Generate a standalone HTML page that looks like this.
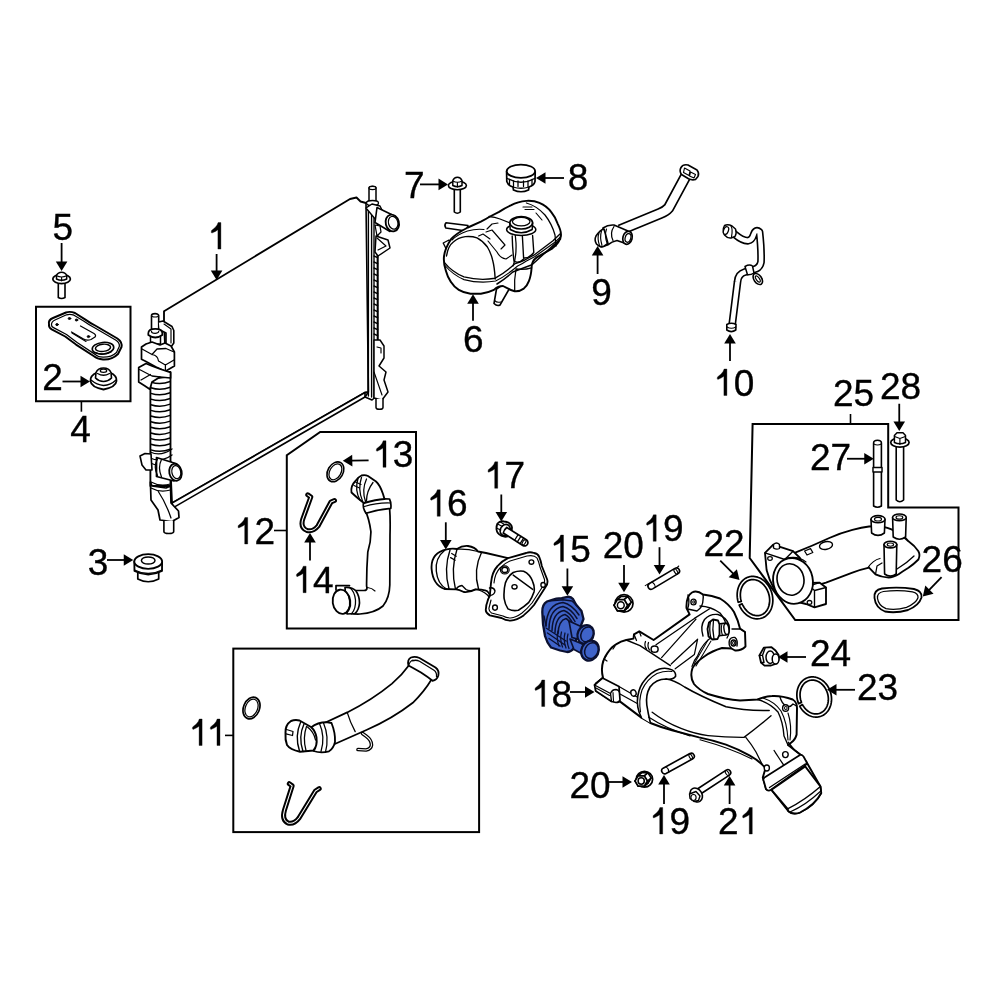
<!DOCTYPE html><html><head><meta charset="utf-8"><style>html,body{margin:0;padding:0;background:#fff;width:1000px;height:1000px;overflow:hidden}</style></head><body><svg width="1000" height="1000" viewBox="0 0 1000 1000" style="display:block;font-family:'Liberation Sans',sans-serif;font-size:37px"><rect width="1000" height="1000" fill="#fff"/>
<rect x="36" y="306.75" width="94.5" height="94.5" fill="none" stroke="#000" stroke-width="2"/>
<path d="M320.2,432 L416,432 L416,628.6 L286.8,628.6 L286.8,455.2 Z" fill="none" stroke="#000" stroke-width="2"/>
<rect x="233.3" y="648.6" width="245.8" height="183.5" fill="none" stroke="#000" stroke-width="2"/>
<path d="M752.6,424 L888.2,424 L888.2,507.4 L958.5,507.4 L958.5,620.1 L795.2,620.1 L749.7,558 Z" fill="none" stroke="#000" stroke-width="2"/>
<g fill="#fff" stroke="#000" stroke-width="1.5" stroke-linejoin="round" stroke-linecap="round">
<!-- 10_radiator.svg -->
<path d="M164,322 L164,311.2 L350,199 L356.5,197.5 L360.5,201.5 L366,203 L368.4,204 L368.4,392 L365,392.5 L172,503.1 Z" stroke-width="1.84"/>
<path d="M172,503.1 L365,392.5 L365,397 L173.3,507.6 Z" stroke-width="1.61"/>
<path d="M366,203 L369,201 L377.6,203 L377.8,395 L372,400 L365,397 L368.4,392 Z" stroke-width="1.61"/>
<path d="M368.4,204 L368.4,396 M371.6,205 L371.6,397 M374,205 L374,398" fill="none" stroke-width="1.38"/>
<path d="M374,256.0 L377.6,257.6 M374,262.0 L377.6,263.6 M374,268.0 L377.6,269.6 M374,274.0 L377.6,275.6 M374,280.0 L377.6,281.6 M374,286.0 L377.6,287.6 M374,292.0 L377.6,293.6 M374,298.0 L377.6,299.6 M374,304.0 L377.6,305.6 M374,310.0 L377.6,311.6 M374,316.0 L377.6,317.6 M374,322.0 L377.6,323.6 M374,328.0 L377.6,329.6 M374,334.0 L377.6,335.6" fill="none" stroke-width="1.38"/>
<path d="M377.6,252 L377.6,342" fill="none" stroke-width="1.72"/>
<path d="M369,203 L369,188 A3.5,1.8 0 0 1 376,188 L376,203" />
<ellipse cx="372.5" cy="188" rx="3.5" ry="1.6" stroke-width="1.15"/>
<ellipse cx="372.5" cy="203" rx="6" ry="2.5" stroke-width="1.26"/>
<path d="M366,208 L372,204 L380,206 L383,212 L380,218 L376,220 Z" stroke-width="1.38"/>
<path d="M377,207.5 L391.5,214.5 L390,231.5 L375,222.5 Z" stroke-width="1.61"/>
<ellipse cx="392.3" cy="223" rx="6.6" ry="8.5" transform="rotate(-15 392.3 223)" stroke-width="1.84"/>
<ellipse cx="393.2" cy="223" rx="4.7" ry="6.5" transform="rotate(-15 392.3 223)" stroke-width="1.26"/>
<path d="M375,225 L380,226 L381,232 L377,236 Z" stroke-width="1.26"/>
<path d="M376,236 L388,240 L390,248 L378,256 L375,252 Z" stroke-width="1.49"/>
<path d="M377,238 L386,246 L378,250" fill="none" stroke-width="1.15"/>
<path d="M374,340 L380,340 L384,346 L384,358 L379,366 L386,372 L384,380 L388,392 L382,400 L374,398 Z" stroke-width="1.49"/>
<path d="M377,347 L381,348 L381,353 M374,372 L382,395" fill="none" stroke-width="1.15"/>
<path d="M376,399 L376,407.5 A3.5,1.8 0 0 0 383,407.5 L383,398.5" stroke-width="1.49"/>
<!-- 11_lefttank.svg -->
<path d="M150.4,372 L150.4,486 L170.5,486 L170.5,372 Z" stroke-width="1.84"/>
<path d="M150.8,376.5 Q160.5,379.7 170.2,375.9 M150.8,382.1 Q160.5,385.3 170.2,381.5 M150.8,387.8 Q160.5,391.0 170.2,387.2 M150.8,393.4 Q160.5,396.6 170.2,392.8 M150.8,399.1 Q160.5,402.3 170.2,398.5 M150.8,404.7 Q160.5,407.9 170.2,404.1 M150.8,410.4 Q160.5,413.6 170.2,409.8 M150.8,416.0 Q160.5,419.2 170.2,415.4 M150.8,421.7 Q160.5,424.9 170.2,421.1 M150.8,427.3 Q160.5,430.5 170.2,426.7 M150.8,433.0 Q160.5,436.2 170.2,432.4 M150.8,438.6 Q160.5,441.8 170.2,438.0 M150.8,444.3 Q160.5,447.5 170.2,443.7 M150.8,449.9 Q160.5,453.1 170.2,449.3" fill="none" stroke-width="1.49"/>
<path d="M151.5,331.5 L151.5,315.5 A3.6,2 0 0 1 158.7,315.5 L158.7,331.5" stroke-width="1.61"/>
<ellipse cx="155.1" cy="315.5" rx="3.4" ry="1.5" stroke-width="1.15"/>
<path d="M158.7,322 L163,321 L172,326.5 L173.8,330.5 L173.8,343 L171,347 L166,346 L166,333 L160,330" stroke-width="1.61"/>
<path d="M164,324 L171,329 L171,343" fill="none" stroke-width="1.15"/>
<path d="M150.5,336 L150.5,344 L160.5,344 L160.5,336 Z" stroke-width="1.49"/><path d="M148.3,333.2 Q148.3,328.8 155.3,328.8 Q162.3,328.8 162.3,333.2 L162.3,335 Q155.3,340 148.3,335 Z" stroke-width="1.72"/>
<path d="M151.5,331.5 A3.6,1.8 0 0 0 158.7,331.5" fill="none" stroke-width="1.26"/>
<path d="M141.5,347 L146,344 L152,342 L160,345 L165,343 L171,346 L174.4,352 L174.4,366 L165.4,371.2 L156,367 L146,361.5 L141.5,359.2 Z" stroke-width="1.72"/>
<path d="M142,349 L152,354.5 Q158,355.5 158.5,361 L165.4,365 L174.4,359.8 M165.4,365 L165.4,371.2 M152,354.5 L157,349 L166,348.5 L174,352" fill="none" stroke-width="1.26"/>
<path d="M138.7,367.6 L146,363.5 L152,366 L160,369 L170.5,372.5 L170.5,378 L160,377 L152,382 L149.8,389.2 L145,386 L138.7,382 Z" stroke-width="1.72"/>
<path d="M139.5,369.5 L152,376 L160,377 M141,380 L150.5,374.5" fill="none" stroke-width="1.26"/>
<path d="M150.4,452 Q160.5,457 172,449 M150.4,458 Q160.5,463 172,455 M150.4,463 Q160.5,468 171,462" fill="none" stroke-width="1.38"/>
<path d="M140,456 L145,453.5 L151,454 L152,470 L146,470 L142,465 Z" stroke-width="1.61"/>
<path d="M156.5,457.5 L176.5,463.8 L174,481 L156.5,476.5 Z" stroke-width="1.72"/>
<path d="M157.5,459 Q153,467 157.5,475.5 M161.5,459.5 Q157.5,467.5 161.5,477" fill="none" stroke-width="1.26"/>
<ellipse cx="175.5" cy="472.3" rx="6.2" ry="8.6" transform="rotate(-12 175.5 472.3)" stroke-width="1.84"/>
<ellipse cx="176.3" cy="472.3" rx="4.4" ry="6.6" transform="rotate(-12 175.5 472.3)" stroke-width="1.26"/>
<path d="M150.4,482 L152,486 L166,488 L170.5,486 L171,503 L178.5,511 L179,517.5 L172,521.5 L160,520 L158,510 L151,500 Z" stroke-width="1.72"/>
<path d="M151,482 Q160,487 170.5,484 M151,488 Q160,493 170.5,490 M158,491 Q166,503 171,518" fill="none" stroke-width="1.26"/>
<path d="M163.9,521 L163.9,531.5 A4.9,2 0 0 0 173.7,531.5 L173.7,520.5" stroke-width="1.61"/>
<!-- 20_small_left.svg -->
<path d="M49,324.4 Q48,320 53,318 L66,312.5 Q70,311 75,313 L85,319.4 Q90,323 96,326 L117.4,338.5 Q122.5,342 121.5,347 L118,354 Q112,360 103,359.5 Q97,359 94,356.3 L76,344.6 Q70,340 65.2,336.5 L51.7,329.3 Q48.5,327.5 49,324.4 Z" stroke-width="1.95"/>
<path d="M51.5,324.6 Q51.5,321.5 55,320 L66.5,314.8 Q70,313.6 74,315.2 L84,321.3 Q89,325 95,328 L116,340.2 Q120,343 119.3,346.5 L116.5,352.5 Q111.5,357.3 103,357.2 Q98,357 95.5,354.6 L77.5,342.8 Q71,338 66.5,334.5 L53.5,327.6 Q51.3,326.5 51.5,324.6 Z" fill="none" stroke-width="1.26"/>
<ellipse cx="103" cy="348.2" rx="10.8" ry="5.8" transform="rotate(-6 103 348.2)" stroke-width="1.61"/>
<ellipse cx="103" cy="347.8" rx="7.6" ry="3.6" transform="rotate(-6 103 347.8)" stroke-width="1.49"/>
<path d="M95.5,352.5 Q103,356 111,352" fill="none" stroke-width="1.15"/>
<path d="M71.5,332 L83.5,339 Q87,341 91,339.5 L95,337 Q96.5,335 94,333.5 L80.5,326" fill="none" stroke-width="1.26"/>
<path d="M72,333 L86,341.5" fill="none" stroke-width="1.15"/>
<ellipse cx="57.0" cy="324.6" rx="1.3" ry="1" fill="#000" stroke-width="0.92"/>
<ellipse cx="69.5" cy="318.5" rx="1.3" ry="1" fill="#000" stroke-width="0.92"/>
<ellipse cx="76.5" cy="320.0" rx="1.3" ry="1" fill="#000" stroke-width="0.92"/>
<ellipse cx="88.5" cy="336.6" rx="1.3" ry="1" fill="#000" stroke-width="0.92"/>
<path d="M90.5,381 Q90,375.5 97,372.5 L110,372.5 Q117,375.5 116.5,381 Q116,387 103.5,389.5 Q91,387 90.5,381 Z" stroke-width="1.84"/>
<path d="M91,380 Q97,385 103.5,385.5 Q111,385 116,380" fill="none" stroke-width="1.26"/>
<path d="M95.5,378 L96,372.5 Q98,368 103.5,368 Q109,368 111,372.5 L111.5,378 Q108,381.5 103.5,381.5 Q99,381.5 95.5,378 Z" stroke-width="1.61"/>
<path d="M97.5,373.5 Q103.5,377 109.5,373.5" fill="none" stroke-width="1.26"/>
<ellipse cx="103.5" cy="370.8" rx="3.2" ry="1.6" stroke-width="1.26"/>
<path d="M58.3,283.5 L58.3,297.5 Q61.6,299.5 65,297.5 L65,283.5" stroke-width="1.61"/>
<ellipse cx="61.6" cy="279" rx="8.8" ry="4.6" stroke-width="1.72"/>
<path d="M56.5,279 L56.5,275.5 Q58,272.2 61.6,272.2 Q65.2,272.2 66.7,275.5 L66.7,279 Q61.6,281.5 56.5,279 Z" stroke-width="1.49"/>
<path d="M56.5,275.8 Q61.6,278.2 66.7,275.8 M61.6,277.5 L61.6,280.8" fill="none" stroke-width="1.15"/>
<path d="M137.8,572 L137.8,579 Q148.2,584.5 158.7,579 L158.7,572" stroke-width="1.72"/>
<path d="M134.3,561.5 L134.5,571 Q148.2,578 162,571 L162.1,561.5" stroke-width="1.84"/>
<ellipse cx="148.2" cy="561.5" rx="13.9" ry="7.3" stroke-width="1.84"/>
<ellipse cx="148.2" cy="560.5" rx="6.8" ry="3.6" stroke-width="1.49"/>
<path d="M134.5,570 Q148.2,577 162,570" fill="none" stroke-width="1.26"/>
<!-- 30_tank.svg -->
<path d="M454.3,188 L454.3,212 Q457.3,214.5 460.3,212 L460.3,188" stroke-width="1.61"/>
<ellipse cx="457.4" cy="185.5" rx="9" ry="4.2" stroke-width="1.61"/>
<path d="M452.8,185.5 L452.8,180.5 Q454,177.2 457.4,177.2 Q460.8,177.2 462,180.5 L462,185.5 Q457.4,188 452.8,185.5 Z" stroke-width="1.49"/>
<path d="M452.8,181 Q457.4,183.5 462,181 M457.4,183 L457.4,187" fill="none" stroke-width="1.15"/>
<path d="M506.6,171.5 L506.8,181.5 Q508,185.5 513,187 L513.5,190 Q521,193.5 528.5,190 L529,187 Q534,185.5 535,181.5 L535.2,171.5" stroke-width="1.72"/>
<ellipse cx="520.9" cy="171.2" rx="14.2" ry="6.6" stroke-width="1.84"/>
<path d="M507.5,178.5 Q521,186 534.5,178.5 M513,187 Q521,189.5 529,187" fill="none" stroke-width="1.26"/>
<path d="M509.5,179.5 L509.5,185.0 M513.5,181.0 L513.5,186.5 M518.0,181.0 L518.0,186.5 M523.5,181.0 L523.5,186.5 M528.0,181.0 L528.0,186.5 M532.0,179.5 L532.0,185.0" fill="none" stroke-width="1.26"/>
<path d="M446,222.8 L468,225.6 L466,231 L445.8,228 Q443.8,225.4 446,222.8 Z" stroke-width="1.49"/>
<path d="M443.2,243 L449,240 L452,246 L446.5,249.5 Z" stroke-width="1.38"/>
<path d="M503.5,284 L509.5,288.5 L500,305 Q497,306.5 494,303.5 L496.5,289 Z" stroke-width="1.61"/>
<path d="M494.5,300.5 Q497,303 500.5,302" fill="none" stroke-width="1.15"/>
<path d="M443.9,257.4 Q444.5,249 451,239.2 Q456,233.5 467.9,227.5 L480.9,221.7 Q486,219 490,216.5 L499.1,211.9 Q505,208 510.8,205.4 Q518,201.5 526.4,200.9 Q534,200.5 539.4,202.8 Q547,206 551.1,211.9 Q556,218 557.6,223.6 Q561.5,231 560.9,236 Q560,242 552.4,248.3 L536.8,257.4 Q531.5,261 531.6,267.8 Q531,276 529,280.8 Q527,286 523.8,288.6 Q519,291.8 514.7,291.2 Q510,290 508.2,288.6 L503,286 Q498,286 493.9,289.9 Q488,292.8 480.9,293.8 L470.5,293.8 Q464,293 458.8,289.9 Q454,287 451,282.1 Q447.5,277 445.8,270.4 Q443.5,264 443.9,257.4 Z" stroke-width="1.95"/>
<path d="M444.5,262.6 Q452,272 464,276.9 Q480,281 495.2,278.2 Q506,272 515.2,263.6 Q520,262 524.8,260 L533.8,255.2 L553,240.8 L560,234" fill="none" stroke-width="1.38"/>
<path d="M445,265.5 Q453,275 464,279.6 Q480,283.8 495.6,281 Q506,276 517.6,266 Q522,264 526,261.2 L535,256.5 L554.5,242.5 L560.5,237" fill="none" stroke-width="1.15"/><path d="M497,284 Q505,279 512.8,272 L532,264.8 L553,245.6 L560.5,239" fill="none" stroke-width="1.49"/>
<path d="M446.5,256 Q448,246 453.6,241.8 Q458,237.5 465.3,236.6 Q472,236 477,237.9 Q483,241 487.4,247 Q491,253 492.6,260 Q494.5,267 495.2,279" fill="none" stroke-width="1.38"/>
<path d="M452,240 Q458,234 467.5,231 Q476,228.5 484,229.5" fill="none" stroke-width="1.15"/>
<path d="M478.6,236 L483,234 L490,239 M486,232 L492,230 L505,245 L501,249 M488,241 L497,252 Q500,258 506,259 L512,255" fill="none" stroke-width="1.15"/>
<path d="M489,216.5 Q495,217 500,219 L510,223 Q514,226 515,232 L516,243 Q516.5,258 513,266" fill="none" stroke-width="1.26"/>
<path d="M487,229 L492,224 L498,223" fill="none" stroke-width="1.15"/>
<path d="M512.2,236 Q512.5,250 514,261.2 Q519,264 523.6,259 M522.4,236.5 L523.6,258 Q529,258.5 533.8,252.5 L532.6,235.5" fill="none" stroke-width="1.38"/>
<path d="M526.4,203 Q537,206 545,215 Q552,224 555,235 L556,246" fill="none" stroke-width="1.26"/>
<path d="M523,207 L532,207 M525,209.5 L534,209.5 M536,213 L542,220" fill="none" stroke-width="1.15"/>
<path d="M516,269 Q514,280 514.7,291 M531.6,267.8 Q525,270 516,269" fill="none" stroke-width="1.26"/>
<ellipse cx="521.2" cy="229.6" rx="14.6" ry="5.8" stroke-width="1.49"/>
<path d="M509.8,223 L510.2,229.5 Q521.2,236 532.2,229.5 L532.6,223" stroke-width="1.49"/>
<ellipse cx="521.2" cy="222.8" rx="11.4" ry="6.2" stroke-width="1.72"/>
<ellipse cx="521.2" cy="221.6" rx="8.8" ry="4.3" stroke-width="1.26"/>
<!-- 40_hoses_top.svg -->
<path d="M688,172 L668.7,207.8 Q666,211 660,213.5 L620,230" fill="none" stroke="#000" stroke-width="11.40" stroke-linecap="butt" stroke-linejoin="round"/><path d="M688,172 L668.7,207.8 Q666,211 660,213.5 L620,230" fill="none" stroke="#fff" stroke-width="8.07" stroke-linecap="butt" stroke-linejoin="round"/>
<path d="M681,167.5 Q683,164 688,165 L697,170 Q699.5,173 698,176.5 L695.5,179.5 Q692,180.5 688.5,178.8 L681.5,174.5 Q679,171 681,167.5 Z" stroke-width="1.61"/>
<path d="M684.5,168 L690,171 L689,175.5 L683.5,172.5 Z M690.5,172 L695.5,174.5 L694,178 L689.5,176 Z" fill="none" stroke-width="1.15"/>
<path d="M603,228 Q608,224.5 614,225 L628,231 L627,244 L617,240.5 Q612,241.5 607.5,245 L601,247 Z" stroke-width="1.61"/>
<path d="M596,236 Q594,240 596.5,244 Q599.5,247.5 603.5,246.5 L608,243.5 L604,229 Q600,230 596,236 Z" stroke-width="1.61"/>
<path d="M599,233 Q597,238 599.5,245.5 M601.5,231 Q599.5,237 602,245.5 M606.5,229 Q604,236 607.5,244.5" fill="none" stroke-width="1.15"/>
<path d="M614,226.5 Q609.5,233 613,240.5" fill="none" stroke-width="1.26"/>
<ellipse cx="627.5" cy="237.8" rx="4.6" ry="6.6" transform="rotate(15 627.5 237.8)" stroke-width="1.72"/>
<ellipse cx="628" cy="237.8" rx="2.8" ry="4.4" transform="rotate(15 627.5 237.8)" stroke-width="1.26"/>
<path d="M729,231.5 L735,234.5 Q742,240.5 748,240.8 Q752,240 753.5,235 Q755.5,228.5 759.5,232 Q761.5,250 761,262 Q760,268 754,269.5 L745,272 Q738,274 737.5,282 L732,326" fill="none" stroke="#000" stroke-width="7.80" stroke-linecap="butt" stroke-linejoin="round"/><path d="M729,231.5 L735,234.5 Q742,240.5 748,240.8 Q752,240 753.5,235 Q755.5,228.5 759.5,232 Q761.5,250 761,262 Q760,268 754,269.5 L745,272 Q738,274 737.5,282 L732,326" fill="none" stroke="#fff" stroke-width="4.58" stroke-linecap="butt" stroke-linejoin="round"/>
<path d="M724.5,225.5 Q728,224 732,226 L735.5,229 Q737,233 735,236.5 L731,238 Q727.5,238.5 724.5,235 Q722,230 724.5,225.5 Z" stroke-width="1.49"/>
<ellipse cx="726" cy="230.5" rx="2.4" ry="4" transform="rotate(20 726 230.5)" stroke-width="1.26"/>
<path d="M731,226 Q733,229 731.5,237" fill="none" stroke-width="1.15"/>
<path d="M745,266.5 Q749.5,264 752.5,266 L754,273 Q751,275 747.5,274.8 Z" stroke-width="1.49"/>
<ellipse cx="757.8" cy="279" rx="3.8" ry="6.2" transform="rotate(-35 757.8 279)" stroke-width="1.61"/>
<ellipse cx="757.8" cy="279" rx="1.6" ry="3.6" transform="rotate(-35 757.8 279)" stroke-width="1.15"/>
<path d="M726.8,324.5 L726.8,330 Q731.3,333.2 735.8,330 L736,324.5 Q731.3,322 726.8,324.5 Z" stroke-width="1.61"/>
<path d="M727,327 Q731.3,329.5 735.9,327" fill="none" stroke-width="1.15"/>
<!-- 50_box12.svg -->
<path d="M365,510 Q369,518 370.9,531.5 Q371,542 367.8,552 Q366.5,570 366.6,586 L367,588 Q367,590.5 364,590.5 L355,590.5 L343,610 Q350,614.5 360,614 Q375,613 383,606 Q389.5,598 389.8,585 L390,535 Q390.5,518 389.5,507 Z" stroke-width="1.72"/>
<path d="M367.5,587.5 Q372,588 375,591" fill="none" stroke-width="1.15"/>
<path d="M345,587.5 Q352,587 356,591 Q359.5,596 359.5,603 Q359,610 355,613.5 L347,614 Z" stroke-width="1.72"/>
<path d="M349.5,587.5 Q354.5,591 355.5,600 Q356,609 351.5,613.8" fill="none" stroke-width="1.26"/>
<ellipse cx="341.5" cy="601.8" rx="8.8" ry="12.2" transform="rotate(-8 341.5 601.8)" stroke-width="1.84"/>
<path d="M345.2,590.8 Q350.5,596 349.5,606 Q348,612 344,613.5" fill="none" stroke-width="1.15"/>
<path d="M336,590 L336,585.6 L349.5,585.6" fill="none" stroke-width="1.72"/>
<path d="M363.5,503 Q375,498 389.5,499 Q391.5,503 390.8,508.3 Q378,509.5 366,513.3 Q362.5,508 363.5,503 Z" stroke-width="1.72"/>
<path d="M364.5,506.5 Q377,502.5 390.5,503" fill="none" stroke-width="1.15"/>
<path d="M351.5,492.5 Q350.5,486 355,481.5 Q358,477 361.5,475.5 Q365,474.5 368,476 L376,481.5 Q380,485 383,494 L384.5,499 Q376,499.5 364,503 Q359,499.5 351.5,492.5 Z" stroke-width="1.84"/>
<path d="M358,478.5 Q354.5,490 360,500 M361.5,477.5 Q357.5,489 362.5,501 M366.5,479 Q361.5,490 365.5,501.5 M373,482.5 Q366.5,491 366.5,501" fill="none" stroke-width="1.26"/>
<path d="M355.5,482 L361,484.5 M354,485.5 L359.5,488" fill="none" stroke-width="1.15"/>
<ellipse cx="335.4" cy="471.8" rx="7.6" ry="10.6" transform="rotate(30 335.4 471.8)" fill="none" stroke-width="1.61"/>
<ellipse cx="335.4" cy="471.8" rx="5.6" ry="8.6" transform="rotate(30 335.4 471.8)" fill="none" stroke-width="1.26"/>
<path d="M307.8,494.8 L310.8,497 L302.8,519 Q300,527.5 307,530.5 Q313,532 318,526 L331,502 L334.5,500.5" fill="none" stroke="#000" stroke-width="5.00" stroke-linecap="round" stroke-linejoin="round"/><path d="M307.8,494.8 L310.8,497 L302.8,519 Q300,527.5 307,530.5 Q313,532 318,526 L331,502 L334.5,500.5" fill="none" stroke="#fff" stroke-width="1.04" stroke-linecap="round" stroke-linejoin="round"/>
<!-- 55_box11.svg -->
<path d="M318,726 L347.2,712.4 Q372,700 392,683.6 Q402,675 409.6,664.4 L432,678.8 Q424,692 412.8,702.8 Q392,719 366.4,730 L328,747 Z" stroke-width="1.72"/>
<path d="M347.2,712.4 Q350,722 355.2,731.6" fill="none" stroke-width="1.26"/>
<path d="M408.5,665.5 Q407,659.5 411,657.5 Q415,656 419.5,658 L435.5,667.5 Q439.5,670.5 438.3,675.5 Q437,680 432.5,680.8 Q428,677 421,672.5 Q414,668.5 408.5,665.5 Z" stroke-width="1.84"/>
<path d="M412.5,660.8 Q416,659.5 419.5,661.3 L434,670.3 Q437,672.5 436.5,676.5" fill="none" stroke-width="1.26"/>
<path d="M408.5,665.5 Q410,661 413,660" fill="none" stroke-width="1.15"/>
<path d="M362.5,733.5 L366,736 Q371.5,740 371.5,745 Q371,749 366,750 L358,749.5" fill="none" stroke="#000" stroke-width="3.60" stroke-linecap="round" stroke-linejoin="round"/><path d="M362.5,733.5 L366,736 Q371.5,740 371.5,745 Q371,749 366,750 L358,749.5" fill="none" stroke="#fff" stroke-width="1.07" stroke-linecap="round" stroke-linejoin="round"/>
<path d="M311,727.5 Q318,722 327.5,722.3 L331.5,723 Q335.5,733 335,742 Q333.5,748.5 329,751.3 Q321,753.5 313.5,751 Q309,740 311,727.5 Z" stroke-width="1.84"/>
<path d="M319.5,723.5 Q325.5,737 321,751.5 M323.5,723 Q329.5,737 325.5,752" fill="none" stroke-width="1.26"/>
<path d="M285.5,733 Q285,725 291,721 Q295,719.5 299.5,720.5 L311,727 Q315.5,731 316.5,737.5 Q317.5,746 313.5,750.5 L300,751.8 Q290,749.5 287,745 Q285,740 285.5,733 Z" stroke-width="1.95"/>
<path d="M300.5,722.5 Q294.5,736 299.5,751 M304,724 Q298,737 303,751.5" fill="none" stroke-width="1.38"/>
<path d="M306.5,726.5 Q302.5,738 306,750.5 M307.5,727 Q314,732 315.5,740" fill="none" stroke-width="1.26"/>
<path d="M286.5,729.5 L293,731.5 L292.5,735.5 L286,733.8" fill="none" stroke-width="1.26"/>
<ellipse cx="251.5" cy="708" rx="8" ry="11.2" transform="rotate(22 251.5 708)" fill="none" stroke-width="1.72"/>
<ellipse cx="251.5" cy="708" rx="6.1" ry="9.2" transform="rotate(22 251.5 708)" fill="none" stroke-width="1.26"/>
<path d="M289.3,783.7 L292.2,785.8 L284.5,810 Q281.5,820 288,823 Q294,824.5 299,818 L315.5,791 L319.2,788.6" fill="none" stroke="#000" stroke-width="5.00" stroke-linecap="round" stroke-linejoin="round"/><path d="M289.3,783.7 L292.2,785.8 L284.5,810 Q281.5,820 288,823 Q294,824.5 299,818 L315.5,791 L319.2,788.6" fill="none" stroke="#fff" stroke-width="1.04" stroke-linecap="round" stroke-linejoin="round"/>
<!-- 60_housing18.svg -->
<path d="M595.8,683.6 L603,677.8 Q599.5,664 607.4,653.1 Q612,646.5 616,644.4 Q621,641 626.2,640 L633.5,638.6 L634,634.3 L639.3,631.4 L653.6,640 L689.6,614.4 L686.5,608 Q686,596 692,592.5 Q697,590 703,594.5 Q712,595.5 720,598.5 Q729,604 734,612 Q738,620 740,628.5 L745,632 L745.5,646.5 Q741,651 735,650.5 L731.5,648.5 L722,648 Q712,651 705,656 Q696,662 692.5,668 Q689.5,677 694,684 Q699,690 708,694 Q726,699.6 740,700.5 L757.6,699.5 Q766,696 772,696 Q782,695.5 792.7,699.5 Q797,702 797,708 L796.6,734.6 Q795,740 791.4,742.4 L788,745 L801.2,755.2 L806.5,762 L820.4,786.4 L821.2,793 Q815,805 800,812.5 Q793,815 788.4,811.2 L771.5,789.8 L766,789 L762.8,777.6 L765.6,768 Q758,760 749.4,755.4 Q738,749 726,744.6 Q712,740 699,737.4 L672,730.2 Q660,727 650.4,723 L641.4,717.6 L619.8,701.4 L611.7,701 L595.8,690.8 Z" stroke-width="1.95"/>
<path d="M594.5,685 L602.5,678 L619,686.5 L620,700 Q619.5,702.5 616,702.5 L611.5,701.5 L595.8,691 Z" stroke-width="1.72"/>
<path d="M594.5,685 L610.5,693.5 L611.5,701.5 M610.5,693.5 Q612,689.5 616,689.5 Q619,690 619.3,692" fill="none" stroke-width="1.38"/>
<path d="M596,688 L609.5,695.5 M613,692.5 L613.5,701.5" fill="none" stroke-width="1.15"/>
<path d="M619,686.5 L638,697.5 M620,694 L640,705" fill="none" stroke-width="1.26"/>
<ellipse cx="633.5" cy="693" rx="2.6" ry="3.2" transform="rotate(-20 633.5 693)" stroke-width="1.38"/>
<path d="M606,656 L604,659 L607,661 M615,646 L613,649" fill="none" stroke-width="1.26"/>
<path d="M634,634.3 L636.5,640.5 M639.3,631.4 L641,636" fill="none" stroke-width="1.26"/>
<path d="M645.5,641.5 Q643.8,645.5 646.5,649 M648.5,642.5 Q647,646.5 649.5,650" fill="none" stroke-width="1.26"/>
<ellipse cx="654.6" cy="649.2" rx="3.5" ry="3.1" stroke-width="1.49"/>
<path d="M626.2,640 L640,645.6 L670.4,665.6" fill="none" stroke-width="1.38"/>
<path d="M656,644.8 L694.4,618.4 L709.6,608.8 M661.6,657.6 L696,619.2 M671.2,664 L697.6,639.2 L694.4,654.4 L675.2,668.8" fill="none" stroke-width="1.26"/>
<path d="M692,666.4 Q694,660 697.6,656 Q701,647 706.4,641.6 Q712,636 720,633.6" fill="none" stroke-width="1.26"/>
<path d="M694,664 L708,640 M696,666 L711,641" fill="none" stroke-width="1.03"/>
<path d="M688,595 Q690,603 687.5,609 L697,611 Q703,607 703,600 Q703.5,596 703,594.5" fill="none" stroke-width="1.38"/>
<ellipse cx="693.5" cy="602" rx="2.6" ry="2.9" stroke-width="1.38"/>
<ellipse cx="693.8" cy="602" rx="1.1" ry="1.3" stroke-width="1.03"/>
<path d="M700,606 Q711,606.5 720,613 Q726,620 727,629" fill="none" stroke-width="1.38"/>
<path d="M703,636 Q700,626 704.5,619.5 Q710,613.5 718,614.5 Q726,617 729,625 Q730.5,632 727,638" fill="none" stroke-width="1.38"/>
<path d="M716,624.2 L726,623 Q728.6,624 728.8,629 Q728.5,634 726,635 L716.5,636 Z" stroke-width="1.49"/>
<ellipse cx="726.4" cy="629" rx="2.4" ry="5.6" transform="rotate(-8 726.4 629)" stroke-width="1.38"/>
<path d="M719,623.8 Q717.5,630 719.5,635.8 M722,623.5 Q720.5,630 722.5,635.5" fill="none" stroke-width="1.03"/>
<path d="M709,622.5 L713,619.5 L718,620.5 L719.5,624.5 L719.5,634.5 L717.5,639 L712.5,639.5 L708.5,636.5 L707.5,629 Z" stroke-width="1.84"/>
<path d="M710.5,621.5 Q708.8,629.5 711,638.5 M713.5,620 Q712,629.5 714,639" fill="none" stroke-width="1.26"/>
<path d="M732,629 L740,629 L745,632 M731.5,648.5 Q728,645 729.5,640 Q731,637 735,637.5 Q738,640 737,646" fill="none" stroke-width="1.38"/>
<ellipse cx="733.5" cy="643" rx="2.5" ry="3" stroke-width="1.38"/>
<ellipse cx="733.7" cy="643" rx="1.1" ry="1.4" stroke-width="1.03"/>
<path d="M641.4,717.6 Q636,707 637.8,696 Q639.5,686 645,679.8 Q651,672 659.4,669 Q666,667 672,669.9 Q676,672 675.6,676.2 Q673,680 666,679 Q656,679 650,687 Q645.5,695 646.8,705 Q648,713 650.4,723" stroke-width="1.61"/>
<path d="M640.5,712 Q638.5,700 642,690 Q647,679 657,673.5 Q665,670.5 672,671.5" fill="none" stroke-width="1.15"/>
<path d="M666,679 Q674,680 684.6,687 Q700,696 726,706.8 Q745,711 769.2,710.4" fill="none" stroke-width="1.49"/>
<path d="M652.2,712.2 Q665,722 681,728.4 Q695,734 708,735.6 Q726,737.5 744,737.4 Q758,727 771,715.8" fill="none" stroke-width="1.38"/>
<path d="M648.5,717 Q665,728 690,736 M700,739.8 Q730,748 752,759" fill="none" stroke-width="1.15"/>
<path d="M745.8,737.4 Q752,745 756,752 Q760,760 762,764" fill="none" stroke-width="1.26"/>
<path d="M757.6,699.5 Q770,703 778,712 Q783,722 784,736 L788,745" fill="none" stroke-width="1.38"/>
<path d="M763,698 Q775,702 781,711 Q787,722 788,740" fill="none" stroke-width="1.15"/>
<path d="M780,697 Q781.5,703 786,706 Q790,708 793,704 L796.6,706" fill="none" stroke-width="1.26"/>
<ellipse cx="785.6" cy="708" rx="3" ry="3.3" stroke-width="1.38"/>
<ellipse cx="785.8" cy="708" rx="1.3" ry="1.5" stroke-width="1.03"/>
<path d="M788,713 Q792,725 790,740" fill="none" stroke-width="1.15"/>
<path d="M788.4,742.4 Q791,746 794.8,750.4 L801.2,755.2" fill="none" stroke-width="1.49"/>
<path d="M774,750.4 L784.4,766.4 M775.5,753 L785.5,767.5" fill="none" stroke-width="1.15"/>
<ellipse cx="785.4" cy="754.6" rx="2.8" ry="3" stroke-width="1.38"/>
<ellipse cx="766.8" cy="768" rx="2.6" ry="3" stroke-width="1.38"/>
<path d="M764,781.6 Q762.5,779 764.5,777.5 L800,755 Q802,754.5 803.5,756.5 L806.5,762 Q807,764.5 805,765.5 L770,790.4 Q767,791 766,789 Z" stroke-width="1.72"/>
<path d="M769.5,787.5 L805.2,764" fill="none" stroke-width="1.38"/>
<path d="M771.5,789.8 L805.2,766.4 L820.4,786.4 L821.2,793 Q815,805 800,812.5 Q793,815 788.4,811.2 L787.6,808.8 Z" stroke-width="1.84"/>
<path d="M787.6,808.8 Q805,800 820.4,786.4" fill="none" stroke-width="1.38"/>
<path d="M790,812 Q806,805 820.8,791" fill="none" stroke-width="1.15"/>
<!-- 70_housing16.svg -->
<path d="M446.7,549.4 Q452,548 457,549 Q462,545.5 468,546 Q475,547 478,551.5 L486,553 L508,558.2 L513.2,559.5 L497,586 L491,597.2 Q488,591 486,590.7 Q480,589 475.5,589.4 Q470,592.5 463.8,592 Q459,589.6 456,589.4 L444.5,589 Q433,585 431.6,569 Q430.5,553 446.7,549.4 Z" stroke-width="1.84"/>
<path d="M444.5,550.5 Q435,558 436.3,571 Q437.5,584 446.5,589" fill="none" stroke-width="1.38"/>
<path d="M450,550 Q443.5,569 449,588.8 M457,549.3 Q450.5,569 455.5,589.3 M481.5,552.5 Q473,570 478.5,588.8" fill="none" stroke-width="1.38"/>
<path d="M451.7,553.5 L456.3,556.2 M450.6,557.6 L455.2,560.2" fill="none" stroke-width="1.26"/>
<path d="M457,549.3 Q466,548.5 478,551.5" fill="none" stroke-width="1.15"/>
<path d="M456,589.4 Q458,586 462,585.5 L466,589.5 Q470,592 475.5,589.4 Q482,590 488,595.5 L491,600" fill="none" stroke-width="1.38"/>
<path d="M491,582.9 Q492,572 497.6,566 Q502,561 508,558.2 L526.2,553 Q530,551.5 534,553 Q538,553.5 539.2,556.9 Q541,561 541.8,566 L547,579 Q548.5,583 545.7,586.8 L534,605 Q529,611 523.6,615.4 Q517,620 510.6,620.6 Q505.5,620.5 501.5,618 L489.8,615.4 Q485,612.5 485.9,608.9 Q486,605 487.2,602.4 Q488,598.5 489.8,595.9 Z" stroke-width="1.84"/>
<path d="M494,583 Q495,573 500,568 Q505,563 510,561 L527,556 Q534,554.5 537,558 Q539,562 540,567 L544.5,579.5 Q545,583 543,586 L532,603 Q527,609 522,613 Q516,617.5 510.6,618 Q506,618 503,616 L491.5,613 Q488.5,611 489,608 L491,600" fill="none" stroke-width="1.15"/>
<path d="M505.4,582.9 Q508,576 513.2,572.5 Q518,570.5 523.6,571.2 Q530,574 532.7,581.6 Q535,587 534,592 Q532,598 528.8,602.4 Q524,607 518.4,610.2 Q513,611.5 508,608.9 Q505,604.5 504.1,598.5 Q503.5,590 505.4,582.9 Z" stroke-width="1.61"/>
<path d="M513.2,575.1 L532.7,589.4" fill="none" stroke-width="1.38"/>
<ellipse cx="504.8" cy="569.9" rx="3.0" ry="2.6" stroke-width="1.38"/>
<ellipse cx="531.4" cy="562.1" rx="2.4" ry="2.2" stroke-width="1.38"/>
<ellipse cx="543.1" cy="584.9" rx="2.2" ry="2.4" stroke-width="1.38"/>
<ellipse cx="495.0" cy="607.6" rx="2.4" ry="2.6" stroke-width="1.38"/>
<ellipse cx="514.5" cy="586.8" rx="2.6" ry="2.2" stroke-width="1.38"/>
<ellipse cx="504.8" cy="569.9" rx="4.4" ry="4" fill="none" stroke-width="1.15"/>
<path d="M489.5,588 Q494,587 495,591 Q494.5,595 490,595.5" fill="none" stroke-width="1.38"/>
<path d="M497.5,523.5 Q500,520.5 504,521.5 L507,522 Q511.5,523.5 512,527.5 L511.5,532.5 Q510,536.5 505.5,536.8 L501,535.5 Q497,533.5 496.5,529.5 Q496.3,526 497.5,523.5 Z" stroke-width="1.84"/>
<ellipse cx="505.2" cy="530" rx="4.8" ry="5.8" transform="rotate(30 505.2 530)" stroke-width="1.61"/>
<path d="M498.5,524.5 L502.5,526.5 M500.5,522 L504,524.2 M497.3,528.5 L500.8,530" fill="none" stroke-width="1.26"/>
<path d="M503.25,533.10 L522.85,545.40 A3.30,3.30 0 0 0 526.35,539.80 L506.75,527.50 Q503.98,529.66 503.25,533.10 Z" stroke-width="1.72"/>
<path d="M514.61,540.23 L518.12,534.64" fill="none" stroke-width="1.26"/>
<path d="M517.36,541.95 L520.87,536.36" fill="none" stroke-width="1.26"/>
<path d="M520.10,543.67 L523.61,538.08" fill="none" stroke-width="1.26"/>
<ellipse cx="524.09" cy="542.28" rx="1.4" ry="3" transform="rotate(32.1 524.09 542.28)" fill="none" stroke-width="1.15"/>
<!-- 75_thermostat.svg -->
<g fill="#3f63c9" stroke="#0b1030">
<path d="M542.3,612 Q542,604.5 547,601.5 L551.5,600 Q556,598.5 561.7,598.2 L567.6,596.8 Q571,596.5 573,599 L576,604.5 L581.5,611 L583.5,619 L580,628 L576,640 L574,648 Q571,652 567,652 L560,650.5 L551,647.5 Q547,643 545,636 L543,624 Z" stroke-width="2.30"/>
<path d="M546,626 Q547,604 563,602.5 Q572,604.5 579,615 M549,628.5 Q549.5,608.5 563,606.5 Q571,608.5 577,618.5 M552,630.5 Q552.5,612.5 564,610.5 Q570,612.5 575,621.5 M555,632.5 Q555.5,616.5 565,614.5 Q569.5,616.5 573,624 M558,634 Q558.5,620.5 566,618.5 Q569,620 571,625" fill="none" stroke-width="1.49"/>
<path d="M548.5,601 L563,599.8 L572,601 L577,606 M544,616 L546,626" fill="none" stroke-width="1.38"/>
<path d="M546,628 L566,641 M547.5,633 L565,645 M549,638.5 L560,646" fill="none" stroke-width="1.38"/>
<path d="M558,631 Q556,638 559,646 M561.5,632 Q559.5,639 562.5,647 M565,633 Q563,640 566,648 M568,634 Q566,641 569,648.5" fill="none" stroke-width="1.26"/>
<path d="M569,621 L581,626.5 L585,641 L572,637.5 Z" stroke-width="1.61"/>
<path d="M570,639 L585,645 L588,657 L574,649.5 Z" stroke-width="1.61"/>
<ellipse cx="585.6" cy="634.4" rx="7.9" ry="9.6" transform="rotate(25 585.6 634.4)" stroke-width="2.30"/>
<ellipse cx="586.9" cy="633.8" rx="5.9" ry="7.7" transform="rotate(25 585.6 634.4)" stroke-width="1.49"/>
<ellipse cx="590" cy="650.6" rx="8.6" ry="10.2" transform="rotate(25 590 650.6)" stroke-width="2.30"/>
<ellipse cx="591.3" cy="650" rx="6.5" ry="8.2" transform="rotate(25 590 650.6)" stroke-width="1.49"/>
</g>
<!-- 80_small_right.svg -->
<ellipse cx="624.04" cy="603.40" rx="8.98" ry="8.70" stroke-width="1.72"/><path d="M631.20,602.20 L627.80,607.79 L621.00,607.79 L617.60,602.20 L621.00,596.61 L627.80,596.61 Z" stroke-width="1.61"/><path d="M631.20,602.20 L627.80,607.79 L624.20,610.79 L627.60,605.20 Z" stroke-width="1.38"/><path d="M627.80,607.79 L621.00,607.79 L617.40,610.79 L624.20,610.79 Z" stroke-width="1.38"/><path d="M621.00,607.79 L617.60,602.20 L614.00,605.20 L617.40,610.79 Z" stroke-width="1.38"/><path d="M617.60,602.20 L621.00,596.61 L617.40,599.61 L614.00,605.20 Z" stroke-width="1.38"/><path d="M621.00,596.61 L627.80,596.61 L624.20,599.61 L617.40,599.61 Z" stroke-width="1.38"/><path d="M627.80,596.61 L631.20,602.20 L627.60,605.20 L624.20,599.61 Z" stroke-width="1.38"/><path d="M627.60,605.20 L624.20,610.79 L617.40,610.79 L614.00,605.20 L617.40,599.61 L624.20,599.61 Z" stroke-width="1.72"/><ellipse cx="620.80" cy="605.20" rx="3.40" ry="3.54" stroke-width="1.49"/>
<path d="M645.2,585.6 L649,583.4 M676,568.6 L678.8,566" fill="none" stroke-width="1.03"/>
<path d="M652.59,588.86 L678.09,573.66 A3.10,3.10 0 0 0 674.91,568.34 L649.41,583.54 A3.10,3.10 0 0 0 652.59,588.86 Z" stroke-width="1.61"/><ellipse cx="675.81" cy="571.41" rx="1.40" ry="2.94" transform="rotate(-30.8 675.81 571.41)" fill="none" stroke-width="1.15"/><path d="M655.34,587.22 Q655.04,583.79 652.16,581.90" fill="none" stroke-width="1.15"/>
<ellipse cx="644.44" cy="779.20" rx="8.18" ry="7.94" stroke-width="1.72"/><path d="M651.00,778.00 L647.90,783.10 L641.70,783.10 L638.60,778.00 L641.70,772.90 L647.90,772.90 Z" stroke-width="1.61"/><path d="M651.00,778.00 L647.90,783.10 L644.30,786.10 L647.40,781.00 Z" stroke-width="1.38"/><path d="M647.90,783.10 L641.70,783.10 L638.10,786.10 L644.30,786.10 Z" stroke-width="1.38"/><path d="M641.70,783.10 L638.60,778.00 L635.00,781.00 L638.10,786.10 Z" stroke-width="1.38"/><path d="M638.60,778.00 L641.70,772.90 L638.10,775.90 L635.00,781.00 Z" stroke-width="1.38"/><path d="M641.70,772.90 L647.90,772.90 L644.30,775.90 L638.10,775.90 Z" stroke-width="1.38"/><path d="M647.90,772.90 L651.00,778.00 L647.40,781.00 L644.30,775.90 Z" stroke-width="1.38"/><path d="M647.40,781.00 L644.30,786.10 L638.10,786.10 L635.00,781.00 L638.10,775.90 L644.30,775.90 Z" stroke-width="1.72"/><ellipse cx="641.20" cy="781.00" rx="3.10" ry="3.22" stroke-width="1.49"/>
<path d="M666.04,773.43 L692.84,758.83 A3.00,3.00 0 0 0 689.96,753.57 L663.16,768.17 A3.00,3.00 0 0 0 666.04,773.43 Z" stroke-width="1.61"/><ellipse cx="690.70" cy="756.58" rx="1.35" ry="2.85" transform="rotate(-28.6 690.70 756.58)" fill="none" stroke-width="1.15"/><path d="M668.85,771.90 Q668.73,768.55 665.97,766.63" fill="none" stroke-width="1.15"/>
<path d="M702.14,793.01 L729.44,775.11 A3.00,3.00 0 0 0 726.16,770.09 L698.86,787.99 A3.00,3.00 0 0 0 702.14,793.01 Z" stroke-width="1.61"/><ellipse cx="727.13" cy="773.04" rx="1.35" ry="2.85" transform="rotate(-33.3 727.13 773.04)" fill="none" stroke-width="1.15"/>
<ellipse cx="696.2" cy="795" rx="5.8" ry="7.4" transform="rotate(-30 696.2 795)" stroke-width="1.61"/>
<path d="M689.5,794 L690,798.5 L694,801.5 L698.5,800.5 L700,796 L696,791.5 Z" stroke-width="1.38"/>
<ellipse cx="693.5" cy="797.5" rx="2.6" ry="3" stroke-width="1.15"/>
<path d="M759.4,655.4 L763.8,647.6 L771.5,647.2 L775.5,650.5 L778.6,655 Q779.5,660 777,663.5 L771,665.5 L764.5,665.6 L761,662.5 Z" stroke-width="1.84"/>
<path d="M759.4,655.4 L762.5,655.2 L765,648.5 M762.5,655.2 L764,662.5 L761,662.5" fill="none" stroke-width="1.38"/>
<ellipse cx="770.2" cy="657.2" rx="4.2" ry="6.2" stroke-width="1.49"/>
<ellipse cx="775.6" cy="659" rx="3.4" ry="5" stroke-width="1.49"/>
<!-- 85_rings.svg -->
<path d="M738.23,602.26 L737.81,600.65 L737.49,599.03 L737.28,597.40 L737.17,595.77 L737.17,594.16 L737.27,592.56 L737.47,590.99 L737.78,589.46 L738.19,587.98 L738.70,586.56 L739.31,585.20 L740.01,583.91 L740.79,582.71 L741.66,581.59 L742.61,580.57 L743.63,579.64 L744.72,578.83 L745.87,578.12 L747.08,577.53 L748.33,577.06 L749.61,576.71 L750.94,576.48 L752.28,576.37 L753.64,576.39 L755.01,576.54 L756.38,576.81 L757.74,577.20 L759.08,577.71 L760.41,578.34 L761.69,579.09 L762.94,579.94 L764.15,580.90 L765.29,581.95 L766.38,583.10 L767.40,584.33 L768.35,585.64 L769.22,587.03 L770.00,588.47 L770.70,589.97 L771.31,591.51 L771.81,593.09 L772.22,594.69 L772.53,596.32 L772.73,597.95 L772.83,599.57 L772.83,601.19 L772.72,602.78 L772.50,604.35 L772.18,605.87 L771.76,607.35 L771.25,608.77 L770.63,610.12 L769.93,611.40 L769.13,612.60 L768.25,613.71 L767.30,614.72 L766.27,615.63 L765.18,616.44 L764.02,617.14 L762.81,617.72 L761.56,618.18 L760.27,618.52 L758.94,618.74 L757.60,618.83 L756.23,618.80 L754.87,618.64 L753.50,618.36 L752.14,617.96 L750.79,617.43 L749.48,616.79 L748.19,616.04 L746.95,615.18 L745.75,614.21 L744.60,613.15 L743.52,611.99 L742.51,610.75 L741.57,609.43 L740.71,608.05 L739.93,606.60 L739.24,605.09 L742.16,603.79 L742.74,605.07 L743.40,606.31 L744.12,607.50 L744.90,608.63 L745.75,609.69 L746.64,610.68 L747.59,611.60 L748.58,612.43 L749.61,613.17 L750.67,613.83 L751.76,614.38 L752.87,614.84 L753.99,615.20 L755.11,615.45 L756.23,615.60 L757.35,615.64 L758.45,615.58 L759.54,615.41 L760.59,615.13 L761.61,614.75 L762.60,614.27 L763.54,613.69 L764.43,613.02 L765.26,612.26 L766.03,611.40 L766.74,610.47 L767.38,609.47 L767.94,608.39 L768.43,607.25 L768.84,606.05 L769.17,604.80 L769.41,603.51 L769.57,602.19 L769.65,600.83 L769.64,599.46 L769.54,598.08 L769.35,596.69 L769.08,595.31 L768.73,593.95 L768.30,592.60 L767.79,591.29 L767.20,590.01 L766.54,588.78 L765.82,587.60 L765.02,586.47 L764.18,585.42 L763.27,584.43 L762.32,583.52 L761.32,582.70 L760.29,581.96 L759.23,581.32 L758.14,580.77 L757.03,580.32 L755.91,579.97 L754.79,579.73 L753.66,579.59 L752.55,579.56 L751.45,579.64 L750.37,579.82 L749.31,580.10 L748.29,580.49 L747.31,580.98 L746.38,581.56 L745.50,582.25 L744.67,583.02 L743.90,583.88 L743.20,584.82 L742.57,585.83 L742.01,586.91 L741.53,588.06 L741.13,589.26 L740.81,590.52 L740.57,591.81 L740.42,593.14 L740.35,594.49 L740.37,595.86 L740.48,597.25 L740.67,598.63 L740.95,600.01 L741.30,601.37 Z" stroke-width="1.72"/>
<path d="M798.51,703.59 L797.99,702.12 L797.56,700.61 L797.23,699.08 L797.00,697.54 L796.88,696.00 L796.85,694.46 L796.93,692.94 L797.10,691.44 L797.38,689.98 L797.76,688.55 L798.24,687.18 L798.81,685.86 L799.47,684.61 L800.21,683.43 L801.04,682.34 L801.95,681.32 L802.93,680.41 L803.98,679.58 L805.08,678.87 L806.24,678.25 L807.45,677.75 L808.69,677.36 L809.97,677.09 L811.28,676.94 L812.60,676.90 L813.93,676.98 L815.26,677.18 L816.58,677.50 L817.90,677.93 L819.19,678.48 L820.45,679.13 L821.67,679.89 L822.85,680.75 L823.98,681.70 L825.05,682.75 L826.06,683.88 L826.99,685.09 L827.86,686.36 L828.64,687.70 L829.33,689.10 L829.94,690.54 L830.45,692.02 L830.87,693.53 L831.19,695.06 L831.41,696.60 L831.53,698.14 L831.55,699.68 L831.46,701.20 L831.27,702.69 L830.99,704.15 L830.60,705.57 L830.11,706.94 L829.54,708.25 L828.87,709.50 L828.11,710.67 L827.28,711.76 L826.36,712.76 L825.38,713.67 L824.33,714.49 L823.22,715.19 L822.05,715.80 L820.84,716.29 L819.59,716.66 L818.31,716.93 L817.00,717.07 L815.68,717.10 L814.35,717.00 L813.02,716.79 L811.70,716.46 L810.39,716.02 L809.10,715.47 L807.84,714.80 L806.62,714.04 L805.44,713.17 L804.32,712.20 L803.26,711.15 L802.25,710.01 L801.32,708.80 L800.47,707.52 L799.70,706.17 L802.47,704.57 L803.11,705.71 L803.82,706.80 L804.59,707.82 L805.41,708.79 L806.29,709.68 L807.22,710.50 L808.18,711.24 L809.18,711.90 L810.21,712.47 L811.27,712.95 L812.34,713.33 L813.42,713.62 L814.51,713.81 L815.59,713.90 L816.67,713.89 L817.73,713.78 L818.77,713.57 L819.79,713.27 L820.77,712.86 L821.71,712.37 L822.61,711.78 L823.46,711.11 L824.26,710.36 L824.99,709.52 L825.66,708.61 L826.27,707.64 L826.80,706.60 L827.26,705.50 L827.64,704.35 L827.94,703.17 L828.16,701.94 L828.30,700.68 L828.36,699.41 L828.33,698.12 L828.22,696.82 L828.03,695.52 L827.75,694.24 L827.40,692.96 L826.96,691.72 L826.46,690.50 L825.88,689.32 L825.23,688.19 L824.51,687.11 L823.74,686.09 L822.91,685.13 L822.03,684.24 L821.10,683.43 L820.13,682.69 L819.12,682.04 L818.09,681.48 L817.04,681.02 L815.96,680.64 L814.88,680.36 L813.79,680.18 L812.71,680.10 L811.63,680.12 L810.57,680.24 L809.53,680.45 L808.52,680.77 L807.54,681.18 L806.60,681.68 L805.71,682.27 L804.86,682.95 L804.08,683.72 L803.35,684.56 L802.68,685.47 L802.08,686.46 L801.56,687.50 L801.10,688.60 L800.73,689.75 L800.43,690.94 L800.22,692.17 L800.09,693.43 L800.04,694.71 L800.08,696.00 L800.19,697.30 L800.39,698.59 L800.68,699.88 L801.04,701.15 L801.48,702.40 Z" stroke-width="1.72"/>
<!-- 90_box25.svg -->
<path d="M873.6,506 L873.6,443 Q873.6,440.2 877.5,440.2 Q881.4,440.2 881.4,443 L881.4,506 Q877.5,508.5 873.6,506 Z" stroke-width="1.61"/>
<path d="M873.8,444 Q877.5,446 881.2,444" fill="none" stroke-width="1.15"/>
<path d="M873,467.5 L882,467.5 L882,472 L873,472 Z" stroke-width="1.38"/>
<path d="M896.2,446 L896.2,500 Q899.8,503.5 903.6,500 L903.6,446" stroke-width="1.61"/>
<ellipse cx="899.9" cy="442.5" rx="9.2" ry="4.6" stroke-width="1.72"/>
<path d="M894.4,442.5 L894.4,435.5 L897,432.8 L903,432.8 L905.5,435.5 L905.5,442.5 Q899.9,445 894.4,442.5 Z" stroke-width="1.49"/>
<path d="M894.6,436.5 L899.9,438.5 L905.3,436.5 M899.9,438.5 L899.9,444.5" fill="none" stroke-width="1.15"/>
<path d="M794.6,552.9 Q812,546 829.3,538 Q840,533 852.4,529.8 Q862,527.5 869,526.5 L878,526 Q888,527 895.3,531.4 Q903,535 908.5,541.3 Q915,546 918.4,551.2 Q920.5,555 918.4,559.5 Q914,564 908.5,567.7 Q903,571 898.6,574.3 Q893,577.5 888.7,577.6 Q881,577 875.5,574.3 L869,567.7 Q861,569.5 852.4,572.7 L826,582.6 L808,588 Z" stroke-width="1.84"/>
<path d="M868,567.7 Q873,560 880,558.5 M897,569 Q907,563 914,556" fill="none" stroke-width="1.26"/>
<path d="M875.5,574.3 L877,566 L882,563" fill="none" stroke-width="1.26"/>
<ellipse cx="826" cy="545.5" rx="6.6" ry="3.8" transform="rotate(-12 826 545.5)" stroke-width="1.38"/>
<path d="M804.6,551 L810.5,548.7 L812.8,552.5 L807,555 Z" stroke-width="1.26"/>
<path d="M892.6,517.4 L893.2,537.0 Q899.4,541.4 905.6,537.0 L906.2,517.4" stroke-width="1.61"/><ellipse cx="899.4" cy="517.4" rx="6.8" ry="3.4" stroke-width="1.61"/><ellipse cx="899.4" cy="517.4" rx="3.4" ry="1.7" stroke-width="1.15"/>
<path d="M871.0,519.2 L871.6,533.0 Q878.0,537.7 884.4,533.0 L885.0,519.2" stroke-width="1.61"/><ellipse cx="878.0" cy="519.2" rx="7.0" ry="3.6" stroke-width="1.61"/><ellipse cx="878.0" cy="519.2" rx="3.5" ry="1.8" stroke-width="1.15"/>
<path d="M884.0,544.6 L884.6,574.0 Q890.4,578.3 896.2,574.0 L896.8,544.6" stroke-width="1.61"/><ellipse cx="890.4" cy="544.6" rx="6.4" ry="3.3" stroke-width="1.61"/><ellipse cx="890.4" cy="544.6" rx="3.2" ry="1.6" stroke-width="1.15"/>
<path d="M765,552.9 L773.2,544.6 L793,551.2 L800,558 L810,583 L819.4,582.6 L826,587.5 L826,604 L814.5,607.3 L806,604 L782,598 Q772,590 766.6,570 Z" stroke-width="1.84"/>
<path d="M765,552.9 L784.8,559.5 L793,551.2 M784.8,559.5 L786,566 M809.5,585.9 L819.4,582.6 M809.5,585.9 L814.5,590.5 L826,587.5 M814.5,590.5 L814.5,607.3" fill="none" stroke-width="1.38"/>
<ellipse cx="770" cy="558.5" rx="2.3" ry="1.8" stroke-width="1.26"/>
<ellipse cx="809.5" cy="602.4" rx="2.3" ry="1.9" stroke-width="1.26"/>
<path d="M773.5,548 L773.5,544.5 Q776.5,541.5 779.5,544.5 L779.5,548.5 Q776.5,550 773.5,548 Z" stroke-width="1.38"/>
<ellipse cx="793" cy="580.9" rx="19.8" ry="23" transform="rotate(-12 793 580.9)" stroke-width="1.84"/>
<ellipse cx="790.5" cy="579.5" rx="13.4" ry="15.8" transform="rotate(-12 790.5 579.5)" stroke-width="1.61"/>
<path d="M785,558.5 Q798,555 806,562" fill="none" stroke-width="1.15"/>
<path d="M874.5,598 Q873.5,590 882,588.5 Q898,586.5 914,589 Q922.5,591 921.5,597.5 Q919,605.5 908,610 Q896,613.5 885,611.5 Q875.5,607.5 874.5,598 Z" stroke-width="1.84"/>
<path d="M877.5,598.3 Q877,592.5 883.5,591.5 Q898,589.6 912.5,591.8 Q918.5,593.3 918,597.8 Q916,603.5 906.5,607.3 Q896,610.5 886,608.7 Q878.5,605.5 877.5,598.3 Z" fill="none" stroke-width="1.26"/></g><line x1="81.40" y1="401.00" x2="81.40" y2="411.70" stroke="#000" stroke-width="1.60"/>
<line x1="850.50" y1="414.00" x2="850.50" y2="424.00" stroke="#000" stroke-width="1.60"/>
<line x1="274.00" y1="530.50" x2="286.80" y2="530.50" stroke="#000" stroke-width="1.60"/>
<line x1="225.00" y1="735.40" x2="233.00" y2="735.40" stroke="#000" stroke-width="1.60"/><line x1="216.60" y1="254.00" x2="216.60" y2="271.50" stroke="#000" stroke-width="1.80"/><path d="M216.60,280.00 L210.80,270.50 L222.40,270.50 Z" fill="#000"/>
<line x1="61.60" y1="243.00" x2="61.60" y2="262.50" stroke="#000" stroke-width="1.80"/><path d="M61.60,271.00 L55.80,261.50 L67.40,261.50 Z" fill="#000"/>
<line x1="62.50" y1="381.50" x2="81.50" y2="381.50" stroke="#000" stroke-width="1.80"/><path d="M90.00,381.50 L80.50,387.30 L80.50,375.70 Z" fill="#000"/>
<line x1="107.00" y1="560.00" x2="124.75" y2="560.00" stroke="#000" stroke-width="1.80"/><path d="M133.25,560.00 L123.75,565.80 L123.75,554.20 Z" fill="#000"/>
<line x1="420.00" y1="184.40" x2="439.50" y2="184.40" stroke="#000" stroke-width="1.80"/><path d="M448.00,184.40 L438.50,190.20 L438.50,178.60 Z" fill="#000"/>
<line x1="564.00" y1="178.00" x2="544.50" y2="178.00" stroke="#000" stroke-width="1.80"/><path d="M536.00,178.00 L545.50,172.20 L545.50,183.80 Z" fill="#000"/>
<line x1="473.00" y1="320.80" x2="473.00" y2="302.70" stroke="#000" stroke-width="1.80"/><path d="M473.00,294.20 L478.80,303.70 L467.20,303.70 Z" fill="#000"/>
<line x1="597.60" y1="274.00" x2="597.60" y2="254.50" stroke="#000" stroke-width="1.80"/><path d="M597.60,246.00 L603.40,255.50 L591.80,255.50 Z" fill="#000"/>
<line x1="730.00" y1="361.00" x2="730.00" y2="342.50" stroke="#000" stroke-width="1.80"/><path d="M730.00,334.00 L735.80,343.50 L724.20,343.50 Z" fill="#000"/>
<line x1="847.00" y1="458.75" x2="865.25" y2="458.75" stroke="#000" stroke-width="1.80"/><path d="M873.75,458.75 L864.25,464.55 L864.25,452.95 Z" fill="#000"/>
<line x1="899.25" y1="403.75" x2="899.25" y2="422.50" stroke="#000" stroke-width="1.80"/><path d="M899.25,431.00 L893.45,421.50 L905.05,421.50 Z" fill="#000"/>
<line x1="941.60" y1="577.20" x2="928.75" y2="590.33" stroke="#000" stroke-width="1.80"/><path d="M922.80,596.40 L925.30,585.55 L933.59,593.67 Z" fill="#000"/>
<line x1="720.25" y1="560.70" x2="733.50" y2="573.98" stroke="#000" stroke-width="1.80"/><path d="M739.50,580.00 L728.68,577.37 L736.90,569.18 Z" fill="#000"/>
<line x1="501.30" y1="494.50" x2="501.30" y2="512.90" stroke="#000" stroke-width="1.80"/><path d="M501.30,521.40 L495.50,511.90 L507.10,511.90 Z" fill="#000"/>
<line x1="445.80" y1="522.30" x2="445.80" y2="541.00" stroke="#000" stroke-width="1.80"/><path d="M445.80,549.50 L440.00,540.00 L451.60,540.00 Z" fill="#000"/>
<line x1="567.40" y1="568.50" x2="567.40" y2="587.20" stroke="#000" stroke-width="1.80"/><path d="M567.40,595.70 L561.60,586.20 L573.20,586.20 Z" fill="#000"/>
<line x1="624.00" y1="565.00" x2="624.00" y2="583.80" stroke="#000" stroke-width="1.80"/><path d="M624.00,592.30 L618.20,582.80 L629.80,582.80 Z" fill="#000"/>
<line x1="659.50" y1="547.20" x2="659.50" y2="565.90" stroke="#000" stroke-width="1.80"/><path d="M659.50,574.40 L653.70,564.90 L665.30,564.90 Z" fill="#000"/>
<line x1="368.60" y1="460.30" x2="351.30" y2="460.64" stroke="#000" stroke-width="1.80"/><path d="M342.80,460.80 L352.19,454.82 L352.41,466.41 Z" fill="#000"/>
<line x1="310.00" y1="560.60" x2="310.00" y2="541.50" stroke="#000" stroke-width="1.80"/><path d="M310.00,533.00 L315.80,542.50 L304.20,542.50 Z" fill="#000"/>
<line x1="570.00" y1="692.00" x2="586.00" y2="692.00" stroke="#000" stroke-width="1.80"/><path d="M594.50,692.00 L585.00,697.80 L585.00,686.20 Z" fill="#000"/>
<line x1="806.00" y1="657.00" x2="786.50" y2="657.00" stroke="#000" stroke-width="1.80"/><path d="M778.00,657.00 L787.50,651.20 L787.50,662.80 Z" fill="#000"/>
<line x1="855.00" y1="689.80" x2="835.50" y2="689.80" stroke="#000" stroke-width="1.80"/><path d="M827.00,689.80 L836.50,684.00 L836.50,695.60 Z" fill="#000"/>
<line x1="608.00" y1="782.00" x2="623.50" y2="782.00" stroke="#000" stroke-width="1.80"/><path d="M632.00,782.00 L622.50,787.80 L622.50,776.20 Z" fill="#000"/>
<line x1="664.00" y1="804.00" x2="664.00" y2="783.50" stroke="#000" stroke-width="1.80"/><path d="M664.00,775.00 L669.80,784.50 L658.20,784.50 Z" fill="#000"/>
<line x1="729.60" y1="804.00" x2="729.60" y2="784.50" stroke="#000" stroke-width="1.80"/><path d="M729.60,776.00 L735.40,785.50 L723.80,785.50 Z" fill="#000"/><g fill="#000" stroke="#000" stroke-width="0.35" style="filter:grayscale(1)"><path d="M220.90,222.60 L220.90,249.10 L217.90,249.10 L217.90,229.80 L215.50,231.40 L211.80,233.10 L211.20,232.20 L211.50,230.50 L215.10,227.60 L217.10,225.00 L218.10,222.60 Z" fill="#000"/>
<text x="52.60" y="239.50">5</text>
<text x="42.25" y="390.00">2</text>
<text x="70.25" y="441.50">4</text>
<text x="87.75" y="574.50">3</text>
<text x="404.00" y="198.00">7</text>
<text x="567.80" y="190.10">8</text>
<text x="463.10" y="352.00">6</text>
<text x="591.30" y="305.30">9</text>
<path d="M726.90,369.00 L726.90,395.50 L723.90,395.50 L723.90,376.20 L721.50,377.80 L717.80,379.50 L717.20,378.60 L717.50,376.90 L721.10,374.00 L723.10,371.40 L724.10,369.00 Z" fill="#000"/>
<text x="733.77" y="395.50">0</text>
<text x="833.00" y="405.50">2</text>
<text x="853.57" y="405.50">5</text>
<text x="880.00" y="399.00">2</text>
<text x="900.57" y="399.00">8</text>
<text x="810.00" y="469.50">2</text>
<text x="830.57" y="469.50">7</text>
<text x="921.60" y="572.00">2</text>
<text x="942.17" y="572.00">6</text>
<text x="703.40" y="555.75">2</text>
<text x="723.97" y="555.75">2</text>
<path d="M497.70,461.80 L497.70,488.30 L494.70,488.30 L494.70,469.00 L492.30,470.60 L488.60,472.30 L488.00,471.40 L488.30,469.70 L491.90,466.80 L493.90,464.20 L494.90,461.80 Z" fill="#000"/>
<text x="504.57" y="488.30">7</text>
<path d="M440.20,489.80 L440.20,516.30 L437.20,516.30 L437.20,497.00 L434.80,498.60 L431.10,500.30 L430.50,499.40 L430.80,497.70 L434.40,494.80 L436.40,492.20 L437.40,489.80 Z" fill="#000"/>
<text x="447.07" y="516.30">6</text>
<path d="M563.50,535.10 L563.50,561.60 L560.50,561.60 L560.50,542.30 L558.10,543.90 L554.40,545.60 L553.80,544.70 L554.10,543.00 L557.70,540.10 L559.70,537.50 L560.70,535.10 Z" fill="#000"/>
<text x="570.37" y="561.60">5</text>
<text x="602.80" y="558.30">2</text>
<text x="623.37" y="558.30">0</text>
<path d="M656.20,514.80 L656.20,541.30 L653.20,541.30 L653.20,522.00 L650.80,523.60 L647.10,525.30 L646.50,524.40 L646.80,522.70 L650.40,519.80 L652.40,517.20 L653.40,514.80 Z" fill="#000"/>
<text x="663.07" y="541.30">9</text>
<path d="M386.00,440.80 L386.00,467.30 L383.00,467.30 L383.00,448.00 L380.60,449.60 L376.90,451.30 L376.30,450.40 L376.60,448.70 L380.20,445.80 L382.20,443.20 L383.20,440.80 Z" fill="#000"/>
<text x="392.87" y="467.30">3</text>
<path d="M247.70,517.50 L247.70,544.00 L244.70,544.00 L244.70,524.70 L242.30,526.30 L238.60,528.00 L238.00,527.10 L238.30,525.40 L241.90,522.50 L243.90,519.90 L244.90,517.50 Z" fill="#000"/>
<text x="254.57" y="544.00">2</text>
<path d="M306.10,566.20 L306.10,592.70 L303.10,592.70 L303.10,573.40 L300.70,575.00 L297.00,576.70 L296.40,575.80 L296.70,574.10 L300.30,571.20 L302.30,568.60 L303.30,566.20 Z" fill="#000"/>
<text x="312.97" y="592.70">4</text>
<path d="M202.10,719.00 L202.10,745.50 L199.10,745.50 L199.10,726.20 L196.70,727.80 L193.00,729.50 L192.40,728.60 L192.70,726.90 L196.30,724.00 L198.30,721.40 L199.30,719.00 Z" fill="#000"/>
<path d="M219.97,719.00 L219.97,745.50 L216.97,745.50 L216.97,726.20 L214.57,727.80 L210.87,729.50 L210.27,728.60 L210.57,726.90 L214.17,724.00 L216.17,721.40 L217.17,719.00 Z" fill="#000"/>
<text x="810.00" y="666.00">2</text>
<text x="830.57" y="666.00">4</text>
<text x="857.00" y="700.40">2</text>
<text x="877.57" y="700.40">3</text>
<path d="M544.70,680.00 L544.70,706.50 L541.70,706.50 L541.70,687.20 L539.30,688.80 L535.60,690.50 L535.00,689.60 L535.30,687.90 L538.90,685.00 L540.90,682.40 L541.90,680.00 Z" fill="#000"/>
<text x="551.57" y="706.50">8</text>
<text x="569.50" y="798.00">2</text>
<text x="590.07" y="798.00">0</text>
<path d="M662.70,807.50 L662.70,834.00 L659.70,834.00 L659.70,814.70 L657.30,816.30 L653.60,818.00 L653.00,817.10 L653.30,815.40 L656.90,812.50 L658.90,809.90 L659.90,807.50 Z" fill="#000"/>
<text x="669.57" y="834.00">9</text>
<text x="718.00" y="834.00">2</text>
<path d="M752.27,807.50 L752.27,834.00 L749.27,834.00 L749.27,814.70 L746.87,816.30 L743.17,818.00 L742.57,817.10 L742.87,815.40 L746.47,812.50 L748.47,809.90 L749.47,807.50 Z" fill="#000"/></g></svg></body></html>
